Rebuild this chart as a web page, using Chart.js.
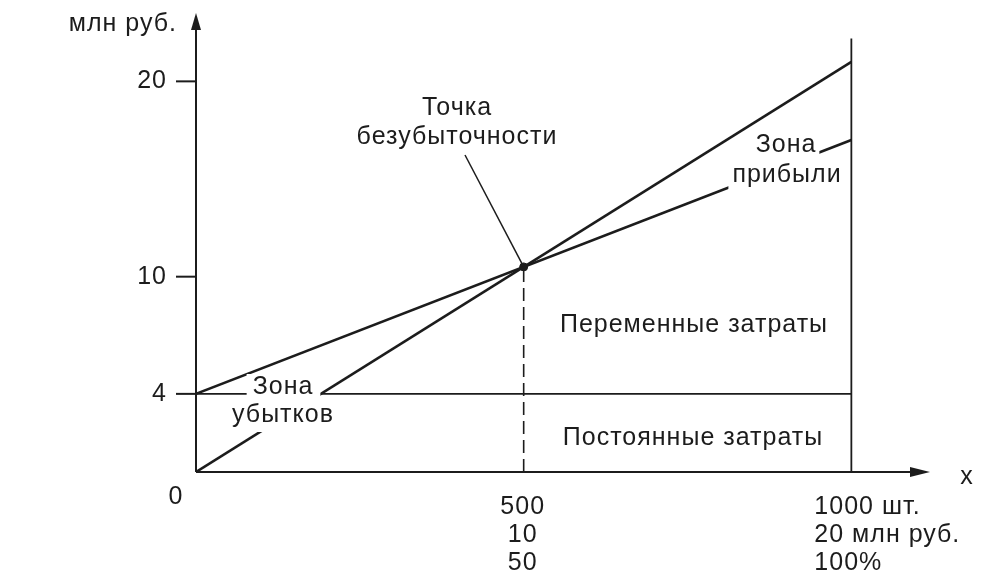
<!DOCTYPE html>
<html lang="ru">
<head>
<meta charset="utf-8">
<title>Точка безубыточности</title>
<script src="https://cdn.jsdelivr.net/npm/chart.js@4.4.1/dist/chart.umd.min.js"></script>
<style>
  html, body { margin: 0; padding: 0; background: #fff; }
  canvas { display: block; }
</style>
</head>
<body>
<canvas id="grafico" width="998" height="580"></canvas>
<script>
// объём выпуска, шт.
const units = [0, 1000];
// выручка и затраты, млн руб.
const revenue = [0, 21];
const totalCost = [4, 17];
const fixedCost = [4, 4];
const breakEvenUnits = 500;
const breakEvenValue = 10.5;
const capacityUnits = 1000;
const capacityTop = 22.2;

const yTickValues = [4, 10, 20];
const xTickValues = [500, 1000];
const xTickLabels = [
    ['500', '10', '50'],
    ['1000 шт.', '20 млн руб.', '100%']
];

const FONT = '25px "Liberation Sans", Arial, sans-serif';
const INK = '#1c1c1c';

function pontos(xs, ys) {
    return xs.map((v, i) => ({ x: v, y: ys[i] }));
}

function textoComFundo(ctx, txt, cx, cy, padL, padR) {
    const w = ctx.measureText(txt).width;
    ctx.fillStyle = '#fff';
    ctx.fillRect(cx - w / 2 - padL, cy - 13, w + padL + padR, 30);
    ctx.fillStyle = INK;
    ctx.fillText(txt, cx, cy);
}

const desenho = {
    id: 'desenho',
    afterDatasetsDraw(chart) {
        const ctx = chart.ctx;
        const x = chart.scales.x;
        const y = chart.scales.y;
        const area = chart.chartArea;
        const x0 = x.getPixelForValue(0);
        const y0 = y.getPixelForValue(0);

        ctx.save();
        ctx.strokeStyle = INK;
        ctx.fillStyle = INK;
        ctx.lineWidth = 2;

        // оси
        ctx.beginPath();
        ctx.moveTo(x0, y0);
        ctx.lineTo(x0, area.top + 8);
        ctx.moveTo(x0, y0);
        ctx.lineTo(area.right - 8, y0);
        ctx.stroke();

        // стрелки
        ctx.beginPath();
        ctx.moveTo(x0, area.top);
        ctx.lineTo(x0 - 5, area.top + 17);
        ctx.lineTo(x0 + 5, area.top + 17);
        ctx.closePath();
        ctx.fill();
        ctx.beginPath();
        ctx.moveTo(area.right, y0);
        ctx.lineTo(area.right - 20, y0 - 5);
        ctx.lineTo(area.right - 20, y0 + 5);
        ctx.closePath();
        ctx.fill();

        // деления оси Y
        ctx.font = FONT;
        ctx.letterSpacing = '1px';
        ctx.textAlign = 'right';
        ctx.textBaseline = 'middle';
        yTickValues.forEach(v => {
            const py = y.getPixelForValue(v);
            ctx.beginPath();
            ctx.moveTo(x0 - 20, py);
            ctx.lineTo(x0, py);
            ctx.stroke();
            ctx.fillText(String(v), x0 - 29, py);
        });
        ctx.fillText('млн руб.', x0 - 19, area.top + 11);

        ctx.textAlign = 'center';
        ctx.fillText('0', x0 - 20, y0 + 25);
        ctx.fillText('x', area.right + 37, y0 + 5);

        // подписи оси X
        xTickValues.forEach((v, i) => {
            const px = x.getPixelForValue(v);
            xTickLabels[i].forEach((linha, j) => {
                const py = y0 + 35 + j * 28;
                if (i === 0) {
                    ctx.textAlign = 'center';
                    ctx.fillText(linha, px - 1, py);
                } else {
                    ctx.textAlign = 'left';
                    ctx.fillText(linha, px - 37, py);
                }
            });
        });

        // точка безубыточности
        const bx = x.getPixelForValue(breakEvenUnits);
        const by = y.getPixelForValue(breakEvenValue);
        ctx.lineWidth = 1.5;
        ctx.beginPath();
        ctx.moveTo(465, 155);
        ctx.lineTo(bx, by);
        ctx.stroke();

        ctx.textAlign = 'center';
        ctx.fillText('Точка', 457, 108);
        ctx.fillText('безубыточности', 457, 137);

        textoComFundo(ctx, 'Зона', 786, 145, 5, 3);
        textoComFundo(ctx, 'прибыли', 787, 175, 4, 4);
        textoComFundo(ctx, 'Зона', 283, 387, 6, 7);
        textoComFundo(ctx, 'убытков', 283, 415, 3, 3);

        ctx.fillText('Переменные затраты', 694, 325);
        ctx.fillText('Постоянные затраты', 693, 438);
        ctx.restore();
    }
};

new Chart(document.getElementById('grafico'), {
    type: 'scatter',
    data: {
        datasets: [
            {
                label: 'Выручка',
                data: pontos(units, revenue),
                showLine: true, borderColor: INK, borderWidth: 2.6, pointRadius: 0
            },
            {
                label: 'Валовые затраты',
                data: pontos(units, totalCost),
                showLine: true, borderColor: INK, borderWidth: 2.6, pointRadius: 0
            },
            {
                label: 'Постоянные затраты',
                data: pontos(units, fixedCost),
                showLine: true, borderColor: INK, borderWidth: 1.8, pointRadius: 0
            },
            {
                label: 'Мощность',
                data: pontos([capacityUnits, capacityUnits], [0, capacityTop]),
                showLine: true, borderColor: INK, borderWidth: 1.8, pointRadius: 0
            },
            {
                label: 'Объём безубыточности',
                data: pontos([breakEvenUnits, breakEvenUnits], [0, breakEvenValue]),
                showLine: true, borderColor: INK, borderWidth: 1.6, borderDash: [13, 6], pointRadius: 0
            },
            {
                label: 'Точка безубыточности',
                data: [{ x: breakEvenUnits, y: breakEvenValue }],
                pointRadius: 4, pointBackgroundColor: INK, pointBorderColor: INK
            }
        ]
    },
    options: {
        responsive: false,
        animation: false,
        layout: { padding: { left: 196, right: 68, top: 13, bottom: 108 } },
        plugins: { legend: { display: false }, tooltip: { enabled: false } },
        scales: {
            x: { type: 'linear', min: 0, max: 1120, display: false },
            y: { type: 'linear', min: 0, max: 23.5, display: false }
        }
    },
    plugins: [desenho]
});
</script>
</body>
</html>
